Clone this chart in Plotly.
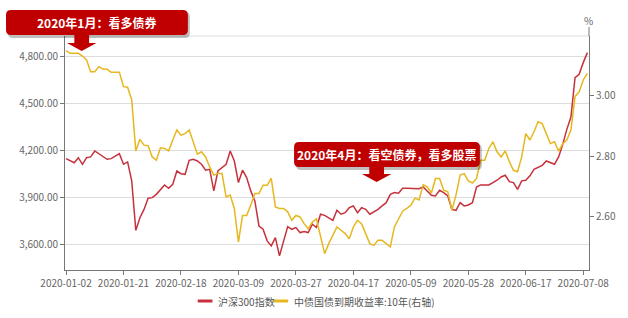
import plotly.graph_objects as go

# ---------------- data ----------------
JAN = [2, 3, 6, 7, 8, 9, 10, 13, 14, 15, 16, 17, 19, 20, 21, 22, 23]
FEB = [3, 4, 5, 6, 7, 10, 11, 12, 13, 14, 17, 18, 19, 20, 21, 24, 25, 26, 27, 28]
MAR = [2, 3, 4, 5, 6, 9, 10, 11, 12, 13, 16, 17, 18, 19, 20, 23, 24, 25, 26, 27, 30, 31]
APR = [1, 2, 3, 7, 8, 9, 10, 13, 14, 15, 16, 17, 20, 21, 22, 23, 24, 26, 27, 28, 29, 30]
MAY = [6, 7, 8, 9, 11, 12, 13, 14, 15, 18, 19, 20, 21, 22, 25, 26, 27, 28, 29]
JUN = [1, 2, 3, 4, 5, 8, 9, 10, 11, 12, 15, 16, 17, 18, 19, 22, 23, 24, 28, 29, 30]
JUL = [1, 2, 3, 6, 7, 8, 9]

dates = []
for m, days in zip(range(1, 8), [JAN, FEB, MAR, APR, MAY, JUN, JUL]):
    dates += [f"2020-{m:02d}-{d:02d}" for d in days]

tick_dates = ["2020-01-02", "2020-01-21", "2020-02-18", "2020-03-09", "2020-03-27",
              "2020-04-17", "2020-05-09", "2020-05-28", "2020-06-17", "2020-07-08"]

hs300 = [4149, 4138, 4123, 4155, 4113, 4155, 4160, 4198, 4181, 4166, 4145, 4149, 4166, 4181,
         4113, 4128, 4007, 3691, 3772, 3825, 3896, 3900, 3921, 3953, 3981, 3960, 3985, 4070,
         4053, 4049, 4138, 4145, 4134, 4113, 4075, 4081, 3943, 4070, 4091, 4113, 4198, 4134,
         3996,
         4075, 4028, 3943, 3879, 3719, 3698, 3624, 3592, 3645, 3528, 3624, 3715, 3698, 3709,
         3677, 3683, 3677, 3730, 3709, 3794, 3787, 3772, 3755, 3819, 3794, 3804, 3836, 3847,
         3804, 3836, 3825, 3794, 3809, 3825, 3847, 3868, 3921, 3932, 3928, 3960, 3960, 3958,
         3957, 3957, 3968, 3943, 3915, 3911, 3947, 3932, 3911, 3825, 3819, 3868, 3847, 3853,
         3868, 3968, 3981, 3981, 3981, 3996, 4011, 4032, 4043, 4002, 3996, 3953, 4007, 4011,
         4039, 4081, 4091, 4106, 4134, 4123, 4113, 4160, 4240, 4336, 4415, 4666, 4687, 4762,
         4826]

yield10y = [3.149, 3.140, 3.140, 3.140, 3.131, 3.118, 3.079, 3.079, 3.096, 3.088, 3.087, 3.077,
            3.077, 3.077, 3.030, 3.028, 2.986, 2.818, 2.856, 2.837, 2.835, 2.798, 2.787, 2.828,
            2.826, 2.818, 2.854, 2.887, 2.870, 2.875, 2.887, 2.848, 2.807, 2.815, 2.798, 2.765,
            2.738, 2.743, 2.743, 2.666, 2.672, 2.627, 2.517,
            2.605, 2.605, 2.639, 2.677, 2.677, 2.705, 2.705, 2.727, 2.633, 2.628, 2.628, 2.617,
            2.589, 2.605, 2.600, 2.578, 2.561, 2.583, 2.594, 2.539, 2.479, 2.512, 2.539, 2.567,
            2.556, 2.545, 2.528, 2.567, 2.589, 2.578, 2.545, 2.512, 2.506, 2.523, 2.523, 2.512,
            2.501, 2.567, 2.594, 2.619, 2.628, 2.639, 2.662, 2.656, 2.706,
            2.699, 2.679, 2.727, 2.727, 2.688, 2.683, 2.622, 2.672, 2.738, 2.743, 2.719, 2.712,
            2.727, 2.787, 2.787, 2.826, 2.848, 2.815, 2.798, 2.818, 2.782, 2.754, 2.749, 2.798,
            2.875, 2.854, 2.881, 2.914, 2.908, 2.875, 2.842, 2.848, 2.817, 2.842, 2.854, 2.887,
            2.997, 3.013, 3.052, 3.074]

left_ticks = [3600, 3900, 4200, 4500, 4800]
right_ticks = [2.6, 2.8, 3.0]

name_red = "沪深300指数"
name_yel = "中债国债到期收益率:10年(右轴)"
note1 = "2020年1月：看多债券"
note2 = "2020年4月：看空债券，看多股票"

RED = "#C6323C"
YEL = "#E6B71E"
BOX = "#C00000"
FONT = "Noto Sans CJK SC"
AXIS = "#777777"

# ---------------- layout geometry (pixels) ----------------
W, H = 628, 318
L, R, T, B = 65, 30, 36, 48
PW = W - L - R
PH = H - T - B


def px(x):
    return (x - L) / PW


def py(y):
    return (H - B - y) / PH


fig = go.Figure()
fig.add_trace(go.Scatter(x=dates, y=hs300, mode="lines", name=name_red,
                         line=dict(color=RED, width=1.5), showlegend=False))
fig.add_trace(go.Scatter(x=dates, y=yield10y, mode="lines", name=name_yel, yaxis="y2",
                         line=dict(color=YEL, width=1.5), showlegend=False))

shapes = []
annotations = []


def rounded_box(x0, y0, x1, y1, r, color, opacity=1.0, layer="above"):
    X0, X1 = px(x0), px(x1)
    Y0, Y1 = py(y0), py(y1)
    rx = r / PW
    ry = r / PH
    path = (f"M {X0+rx},{Y0} L {X1-rx},{Y0} Q {X1},{Y0} {X1},{Y0-ry} "
            f"L {X1},{Y1+ry} Q {X1},{Y1} {X1-rx},{Y1} L {X0+rx},{Y1} "
            f"Q {X0},{Y1} {X0},{Y1+ry} L {X0},{Y0-ry} Q {X0},{Y0} {X0+rx},{Y0} Z")
    shapes.append(dict(type="path", path=path, xref="paper", yref="paper",
                       fillcolor=color, opacity=opacity, line=dict(width=0), layer=layer))


def arrow(cx, ytop, ymid, ybot, stem_w, head_w, color):
    pts = [(cx - stem_w / 2, ytop), (cx + stem_w / 2, ytop), (cx + stem_w / 2, ymid),
           (cx + head_w / 2, ymid), (cx, ybot), (cx - head_w / 2, ymid),
           (cx - stem_w / 2, ymid)]
    path = "M " + " L ".join(f"{px(a)},{py(b)}" for a, b in pts) + " Z"
    shapes.append(dict(type="path", path=path, xref="paper", yref="paper",
                       fillcolor=color, line=dict(width=0), layer="above"))


def callout(x0, y0, x1, y1, text, acx, ay0, ay1, ay2):
    rounded_box(x0 + 2, y0 + 2, x1 + 2, y1 + 3, 5, "#000000", 0.25)
    rounded_box(x0, y0, x1, y1, 5, BOX)
    arrow(acx, y1, ay1, ay2, 15, 30, BOX)
    annotations.append(dict(x=px((x0 + x1) / 2), y=py((y0 + y1) / 2), xref="paper", yref="paper",
                            text=f"<b>{text}</b>", showarrow=False,
                            font=dict(family=FONT, size=12, color="white"),
                            xanchor="center", yanchor="middle"))


# top frame line and right-axis extension
shapes.append(dict(type="line", xref="paper", yref="paper", x0=0, x1=1, y0=1, y1=1,
                   line=dict(color="#DDDDDD", width=1), layer="below"))
shapes.append(dict(type="line", xref="paper", yref="paper", x0=px(598), x1=px(598),
                   y0=1, y1=py(27), line=dict(color=AXIS, width=1), layer="below"))

callout(5, 10, 190, 35, note1, 82, 35, 43, 51)
callout(298, 142, 487, 167, note2, 382, 167, 174, 182)

# manual legend
leg_y = 301
for (x0, x1, tx, col, txt) in [(200, 215, 219, RED, name_red), (277, 292, 296, YEL, name_yel)]:
    shapes.append(dict(type="line", xref="paper", yref="paper", x0=px(x0), x1=px(x1),
                       y0=py(leg_y), y1=py(leg_y), line=dict(color=col, width=3)))
    annotations.append(dict(x=px(tx), y=py(leg_y), xref="paper", yref="paper", text=txt,
                            showarrow=False, xanchor="left", yanchor="middle",
                            font=dict(family=FONT, size=10, color="#555555")))

annotations.append(dict(x=px(597), y=py(20), xref="paper", yref="paper", text="%",
                        showarrow=False, xanchor="center", yanchor="middle",
                        font=dict(family=FONT, size=10, color="#666666")))

fig.update_layout(
    width=W, height=H,
    margin=dict(l=L, r=R, t=T, b=B, pad=0),
    paper_bgcolor="white", plot_bgcolor="white",
    showlegend=False,
    font=dict(family=FONT, size=10, color="#666666"),
    xaxis=dict(type="category", categoryorder="array", categoryarray=dates,
               range=[-0.25, 127.4], tickmode="array", tickvals=tick_dates, ticktext=tick_dates,
               showgrid=False, showline=True, linecolor=AXIS, linewidth=1,
               ticks="outside", ticklen=4, tickcolor=AXIS,
               tickfont=dict(family=FONT, size=10, color="#666666"), tickangle=0,
               zeroline=False),
    yaxis=dict(range=[3438, 4932], tickvals=left_ticks, tickformat=",.2f",
               showgrid=True, gridcolor="#DDDDDD", gridwidth=1,
               showline=True, linecolor=AXIS, linewidth=1,
               ticks="outside", ticklen=4, tickcolor=AXIS,
               tickfont=dict(family=FONT, size=10, color="#666666"), zeroline=False),
    yaxis2=dict(range=[2.425, 3.197], tickvals=right_ticks, tickformat=".2f",
                overlaying="y", side="right", showgrid=False,
                showline=True, linecolor=AXIS, linewidth=1,
                ticks="outside", ticklen=4, tickcolor=AXIS,
                tickfont=dict(family=FONT, size=10, color="#666666"), zeroline=False),
    shapes=shapes,
    annotations=annotations,
)

fig.write_html("out.html")
